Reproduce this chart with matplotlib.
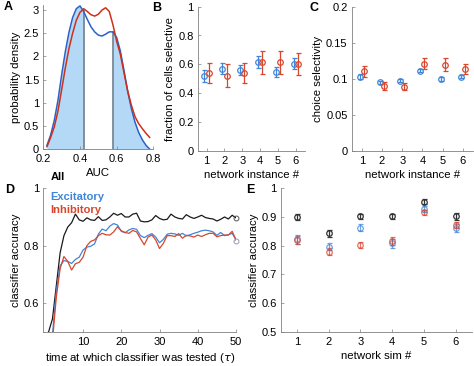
import matplotlib
matplotlib.use('Agg')
import matplotlib.pyplot as plt
from matplotlib.ticker import FuncFormatter
import numpy as np

plt.rcParams['font.family'] = ['Liberation Sans', 'DejaVu Sans']
plt.rcParams['font.size'] = 8

W, H = 474, 366
BLUE = '#3f86d8'
RED = '#d8462e'
BLUE_LINE = '#2a62c8'
RED_LINE = '#cf2f1c'
FILL = '#b3d9f7'
LAB = 8.2

# ---- A: AUC densities
auc_x = [0.22, 0.24, 0.26, 0.28, 0.30, 0.32, 0.34, 0.36, 0.38, 0.40,
         0.42, 0.44, 0.46, 0.48, 0.50, 0.52, 0.54, 0.56, 0.58, 0.60,
         0.62, 0.64, 0.66, 0.68, 0.70, 0.72, 0.74, 0.76, 0.78]
dens_exc = [0.08, 0.30, 0.62, 1.05, 1.60, 2.10, 2.52, 2.84, 3.03, 3.09,
            2.97, 2.80, 2.64, 2.53, 2.46, 2.44, 2.48, 2.53, 2.53, 2.41,
            2.12, 1.70, 1.25, 0.88, 0.58, 0.36, 0.20, 0.08, 0.0]
dens_inh = [0.05, 0.25, 0.48, 0.82, 1.28, 1.75, 2.17, 2.50, 2.78, 2.95,
            3.03, 2.97, 2.90, 2.87, 2.91, 3.00, 3.05, 2.97, 2.68, 2.33,
            2.05, 1.65, 1.26, 0.95, 0.70, 0.55, 0.44, 0.34, 0.25]
auc_cut = [0.42, 0.58]

# ---- B, C: per network instance
net = [1, 2, 3, 4, 5, 6]
frac_exc = [0.52, 0.57, 0.56, 0.615, 0.545, 0.605]
frac_exc_err = [0.04, 0.04, 0.035, 0.04, 0.035, 0.04]
frac_inh = [0.54, 0.52, 0.54, 0.615, 0.615, 0.60]
frac_inh_err = [0.07, 0.08, 0.07, 0.08, 0.08, 0.075]
csel_exc = [0.103, 0.095, 0.097, 0.111, 0.0995, 0.103]
csel_exc_err = [0.003, 0.002, 0.002, 0.002, 0.003, 0.002]
csel_inh = [0.110, 0.090, 0.089, 0.121, 0.1195, 0.113]
csel_inh_err = [0.008, 0.006, 0.005, 0.008, 0.009, 0.007]

# ---- D: classifier accuracy over time
tau = list(range(1, 51))
acc_all = [0.50, 0.545, 0.66, 0.775, 0.835, 0.865, 0.88, 0.91, 0.89, 0.885,
           0.897, 0.89, 0.888, 0.901, 0.888, 0.89, 0.90, 0.913, 0.906, 0.912,
           0.90, 0.90, 0.91, 0.913, 0.886, 0.883, 0.884, 0.89, 0.905, 0.895,
           0.89, 0.892, 0.91, 0.90, 0.895, 0.893, 0.908, 0.90, 0.895, 0.90,
           0.906, 0.898, 0.895, 0.893, 0.886, 0.892, 0.90, 0.893, 0.906, 0.897]
acc_exc = [0.40, 0.49, 0.64, 0.73, 0.748, 0.745, 0.738, 0.752, 0.76, 0.785,
           0.795, 0.798, 0.806, 0.84, 0.858, 0.852, 0.868, 0.877, 0.872, 0.85,
           0.845, 0.855, 0.86, 0.857, 0.835, 0.828, 0.836, 0.842, 0.83, 0.81,
           0.822, 0.84, 0.843, 0.841, 0.836, 0.843, 0.834, 0.838, 0.843, 0.847,
           0.852, 0.854, 0.852, 0.848, 0.836, 0.846, 0.835, 0.838, 0.843, 0.82]
acc_inh = [0.38, 0.47, 0.62, 0.72, 0.762, 0.745, 0.715, 0.737, 0.742, 0.76,
           0.80, 0.815, 0.82, 0.835, 0.843, 0.838, 0.837, 0.848, 0.866, 0.852,
           0.846, 0.843, 0.853, 0.848, 0.825, 0.803, 0.83, 0.837, 0.82, 0.79,
           0.808, 0.835, 0.835, 0.832, 0.842, 0.826, 0.836, 0.834, 0.83, 0.837,
           0.832, 0.838, 0.843, 0.843, 0.831, 0.835, 0.837, 0.837, 0.85, 0.82]
end_all = 0.895
end_sub = 0.815

# ---- E: per network sim
sim = [1, 2, 3, 4, 5, 6]
sim_all = [0.899, 0.843, 0.902, 0.902, 0.953, 0.902]
sim_all_err = [0.01, 0.012, 0.01, 0.01, 0.008, 0.012]
sim_exc = [0.822, 0.797, 0.863, 0.808, 0.927, 0.861]
sim_exc_err = [0.015, 0.013, 0.012, 0.015, 0.01, 0.013]
sim_inh = [0.82, 0.779, 0.802, 0.816, 0.916, 0.872]
sim_inh_err = [0.015, 0.012, 0.01, 0.013, 0.008, 0.012]

fmt = FuncFormatter(lambda v, p: f'{v:g}')


def box(l, r, t, b):
    return [l / W, 1 - b / H, (r - l) / W, (b - t) / H]


def style(ax):
    for s in ['top', 'right']:
        ax.spines[s].set_visible(False)
    for s in ['left', 'bottom']:
        ax.spines[s].set_color('#808080')
        ax.spines[s].set_linewidth(0.6)
    ax.tick_params(direction='in', length=2.5, width=0.5, color='#808080',
                   labelsize=8)
    ax.tick_params(axis='x', pad=3.5)
    ax.tick_params(axis='y', pad=3)
    ax.xaxis.set_major_formatter(fmt)
    ax.yaxis.set_major_formatter(fmt)


fig = plt.figure(figsize=(W / 100, H / 100), dpi=100)

# A
axA = fig.add_axes(box(43.3, 153.3, 5, 149))
ax_arr = np.array(auc_x)
ex_arr = np.array(dens_exc)
axA.fill_between(ax_arr, 0, ex_arr, where=ax_arr <= auc_cut[0], color=FILL, lw=0)
axA.fill_between(ax_arr, 0, ex_arr, where=ax_arr >= auc_cut[1], color=FILL, lw=0)
for c in auc_cut:
    axA.plot([c, c], [0, dens_exc[auc_x.index(c)]], color='#6f7f8f', lw=1.2)
axA.plot(auc_x, dens_exc, color=BLUE_LINE, lw=1.1)
axA.plot(auc_x, dens_inh, color=RED_LINE, lw=1.1)
axA.set_xlim(0.2, 0.8)
axA.set_ylim(0, 3.11)
axA.set_xticks([0.2, 0.4, 0.6, 0.8])
axA.set_yticks([0, 0.5, 1, 1.5, 2, 2.5, 3])
axA.set_xlabel('AUC', fontsize=LAB, labelpad=3)
axA.set_ylabel('probability density', fontsize=LAB, labelpad=2)
style(axA)

# B
axB = fig.add_axes(box(197.7, 304.6, 6.7, 150.7))
nb = np.array(net)
axB.errorbar(nb - 0.12, frac_exc, yerr=frac_exc_err, fmt='o', color=BLUE,
             mfc='none', ms=4, mew=0.9, elinewidth=0.9, capsize=1.8)
axB.errorbar(nb + 0.12, frac_inh, yerr=frac_inh_err, fmt='o', color=RED,
             mfc='none', ms=4, mew=0.9, elinewidth=0.9, capsize=1.8)
axB.set_xlim(0.5, 6.5)
axB.set_ylim(0, 1)
axB.set_xticks(net)
axB.set_yticks([0, 0.2, 0.4, 0.6, 0.8, 1])
axB.set_xlabel('network instance #', fontsize=LAB, labelpad=3)
axB.set_ylabel('fraction of cells selective', fontsize=LAB, labelpad=2)
style(axB)

# C
axC = fig.add_axes(box(351.7, 472.9, 6.7, 150.7))
axC.errorbar(nb - 0.1, csel_exc, yerr=csel_exc_err, fmt='o', color=BLUE,
             mfc='none', ms=4, mew=0.9, elinewidth=0.9, capsize=1.8)
axC.errorbar(nb + 0.1, csel_inh, yerr=csel_inh_err, fmt='o', color=RED,
             mfc='none', ms=4, mew=0.9, elinewidth=0.9, capsize=1.8)
axC.set_xlim(0.5, 6.5)
axC.set_ylim(0, 0.2)
axC.set_xticks(net)
axC.set_yticks([0, 0.05, 0.1, 0.15, 0.2])
axC.set_xlabel('network instance #', fontsize=LAB, labelpad=3)
axC.set_ylabel('choice selectivity', fontsize=LAB, labelpad=2)
style(axC)

# D
axD = fig.add_axes(box(43.3, 236, 188.3, 331.7))
axD.plot(tau, acc_all, color='#1a1a1a', lw=0.9)
axD.plot(tau, acc_exc, color=BLUE, lw=0.9)
axD.plot(tau, acc_inh, color=RED, lw=0.9)
axD.plot([tau[-1]], [end_all], 'o', mfc='none', mec='#555555', ms=3.5, mew=0.7, clip_on=False)
axD.plot([tau[-1]], [end_sub], 'o', mfc='none', mec='#9a9aa8', ms=3.5, mew=0.7, clip_on=False)
axD.set_xlim(-0.4, 50)
axD.set_ylim(0.5, 1)
axD.set_xticks([10, 20, 30, 40, 50])
axD.set_yticks([0.6, 0.8, 1])
axD.set_xlabel('time at which classifier was tested ($\\tau$)', fontsize=LAB, labelpad=3)
axD.set_ylabel('classifier accuracy', fontsize=LAB, labelpad=2)
style(axD)

# E
axE = fig.add_axes(box(281, 471.7, 188.3, 331.7))
axE.errorbar(sim, sim_all, yerr=sim_all_err, fmt='o', color='#333333',
             mfc='none', ms=4, mew=0.9, elinewidth=0.9, capsize=1.8)
axE.errorbar(sim, sim_exc, yerr=sim_exc_err, fmt='o', color=BLUE, alpha=0.75,
             mfc='none', ms=4, mew=0.9, elinewidth=0.9, capsize=1.8)
axE.errorbar(sim, sim_inh, yerr=sim_inh_err, fmt='o', color=RED, alpha=0.75,
             mfc='none', ms=4, mew=0.9, elinewidth=0.9, capsize=1.8)
axE.set_xlim(0.5, 6.5)
axE.set_ylim(0.5, 1)
axE.set_xticks(sim)
axE.set_yticks([0.5, 0.6, 0.7, 0.8, 0.9, 1])
axE.set_xlabel('network sim #', fontsize=LAB, labelpad=3)
axE.set_ylabel('classifier accuracy', fontsize=LAB, labelpad=2)
style(axE)

# legend text for D
fig.text(51 / W, 1 - 177 / H, 'All', color='black', fontweight='bold', fontsize=8, va='center')
fig.text(50 / W, 1 - 197 / H, 'Excitatory', color=BLUE, fontweight='bold', fontsize=8, va='center')
fig.text(50 / W, 1 - 210 / H, 'Inhibitory', color=RED, fontweight='bold', fontsize=8, va='center')

# panel letters
for lab, x, y in [('A', 4, 7), ('B', 152, 8), ('C', 310, 8), ('D', 5, 190), ('E', 246, 190)]:
    fig.text(x / W, 1 - y / H, lab, fontweight='bold', fontsize=9, va='center', ha='left')

plt.savefig('out.png', dpi=100)
